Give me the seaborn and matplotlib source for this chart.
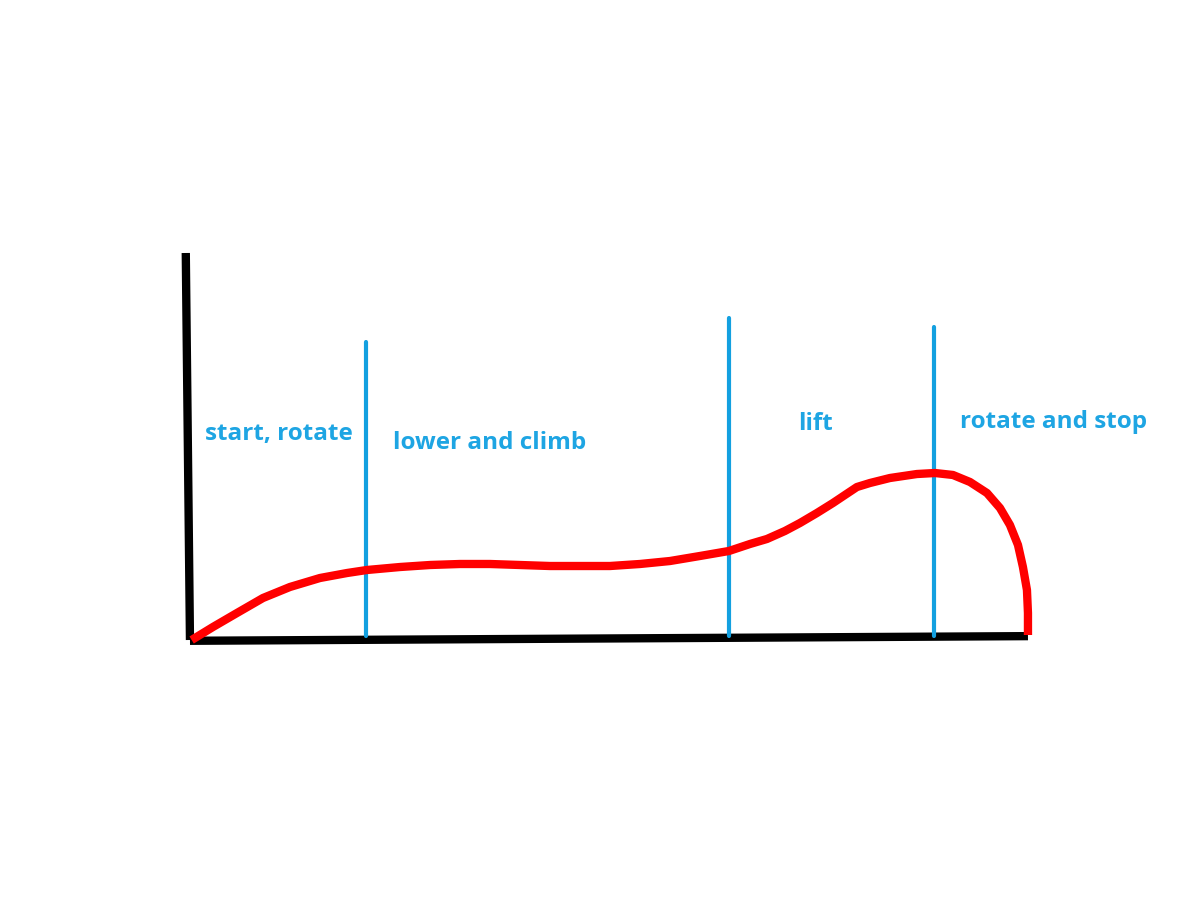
import pandas as pd
import numpy as np
import matplotlib.pyplot as plt
import seaborn as sns

# curve (x: 0-100 along the base, y: 0-100 up the vertical axis)
curve_x = [0.2, 2.74, 5.61, 8.71, 11.93, 15.51, 18.74, 21.12, 25.06, 28.64, 32.22,
           35.80, 39.38, 42.96, 46.54, 50.12, 53.70, 57.28, 60.86, 64.32, 66.83,
           68.85, 71.00, 72.79, 74.82, 76.73, 78.16, 79.59, 81.15, 83.53, 86.75,
           88.90, 91.05, 93.08, 95.11, 96.66, 97.85, 98.81, 99.40, 99.88, 100, 100]
curve_y = [0, 3.36, 6.98, 10.85, 13.70, 16.02, 17.31, 18.09, 18.86, 19.38, 19.64,
           19.64, 19.38, 19.12, 19.12, 19.12, 19.64, 20.41, 21.71, 23.00, 24.81,
           26.10, 28.17, 30.23, 32.82, 35.40, 37.47, 39.53, 40.57, 41.86, 42.89,
           43.15, 42.64, 40.83, 37.98, 34.11, 29.72, 24.55, 18.86, 12.92, 6.98, 1.29]

# phase boundaries (x position, top of the line)
phase_x = [21.0, 64.3, 88.8]
phase_top = [77.0, 83.2, 80.9]

# phase labels
labels = ['start, rotate', 'lower and climb', 'lift', 'rotate and stop']
label_x = [1.8, 24.2, 72.6, 91.9]
label_y = [53.3, 51.0, 55.9, 56.4]

sns.set_style('white')
plt.rcParams['font.family'] = ['Open Sans', 'DejaVu Sans']

fig = plt.figure(figsize=(12, 9), dpi=100)
ax = fig.add_axes([0, 0, 1, 1])

df = pd.DataFrame({'x': curve_x, 'y': curve_y})

# hand drawn axes
ax.plot([-0.5, 0], [100, 0], color='black', lw=6, solid_capstyle='butt')
ax.plot([0, 100], [-0.2, 1.0], color='black', lw=6, solid_capstyle='butt')

# phase separators
for px, top in zip(phase_x, phase_top):
    ax.plot([px, px], [1.0, top], color='#13a0e0', lw=3, solid_capstyle='round')

# estimator=None so the two points at x=100 are kept apart
sns.lineplot(data=df, x='x', y='y', sort=False, estimator=None, color='red',
             lw=6, ax=ax, solid_capstyle='butt', solid_joinstyle='round')

for t, lx, ly in zip(labels, label_x, label_y):
    ax.text(lx, ly, t, color='#1ea5e3', fontsize=17.5, fontweight='bold',
            ha='left', va='center')

ax.set_xlim(-22.67, 120.53)
ax.set_ylim(-67.18, 165.37)
ax.axis('off')

fig.savefig('out.png', dpi=100)
